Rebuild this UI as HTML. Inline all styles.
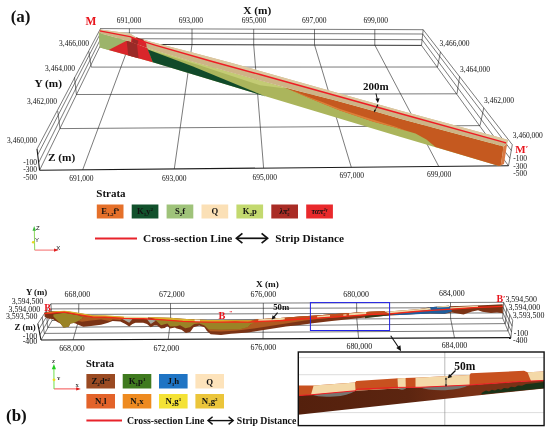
<!DOCTYPE html>
<html>
<head>
<meta charset="utf-8">
<title>Strata strip models</title>
<style>
html,body{margin:0;padding:0;background:#fff;}
body{width:550px;height:433px;overflow:hidden;}
svg{display:block;}
text{font-family:"Liberation Serif","DejaVu Serif",serif;fill:#111;}
.t{font-size:7.5px;}
.b{font-weight:bold;}
.ax{font-size:11.3px;font-weight:bold;}
.g line,.g path,.g polyline{stroke:#1a1a1a;stroke-width:0.58;fill:none;}
.sans{font-family:"Liberation Sans","DejaVu Sans",sans-serif;}
</style>
</head>
<body>
<svg width="550" height="433" viewBox="0 0 550 433">
<rect width="550" height="433" fill="#ffffff"/>

<!-- ================= PANEL (a) ================= -->
<g id="pa">
<!-- box grid -->
<g class="g">
  <!-- back wall horizontals -->
  <line x1="100.5" y1="28.6" x2="423.2" y2="29.7"/>
  <line x1="100.7" y1="32.9" x2="422.7" y2="34"/>
  <line x1="100.8" y1="38.6" x2="422.1" y2="39.7"/>
  <line x1="101" y1="44.3" x2="421.5" y2="45.4" style="stroke-width:0.9"/>
  <!-- back wall verticals -->
  <line x1="129.4" y1="28.7" x2="129.4" y2="44.4"/>
  <line x1="192" y1="28.9" x2="192" y2="44.6"/>
  <line x1="253.7" y1="29.1" x2="253.7" y2="44.7"/>
  <line x1="314.5" y1="29.3" x2="314.5" y2="44.8"/>
  <line x1="374.8" y1="29.5" x2="374.8" y2="45"/>
  <line x1="100.5" y1="28.6" x2="101" y2="44.3"/>
  <line x1="423.2" y1="29.7" x2="421.5" y2="45.4"/>
  <!-- left wall -->
  <line x1="100.5" y1="28.6" x2="37" y2="149"/>
  <line x1="100.7" y1="32.9" x2="37.7" y2="154.8"/>
  <line x1="100.8" y1="38.6" x2="38.7" y2="162.5"/>
  <line x1="101" y1="44.3" x2="39.6" y2="170.2"/>
  <line x1="37" y1="149" x2="39.6" y2="170.2" style="stroke-width:1.1"/>
  <line x1="88.8" y1="51.4" x2="91.2" y2="67.1"/>
  <line x1="74.5" y1="77.3" x2="76.4" y2="94.5"/>
  <line x1="57.7" y1="111" x2="60" y2="128.6"/>
  <!-- right wall -->
  <line x1="423.2" y1="29.7" x2="512.3" y2="144.7"/>
  <line x1="422.7" y1="34" x2="511.3" y2="150.5"/>
  <line x1="422.1" y1="39.7" x2="509.9" y2="158.2"/>
  <line x1="421.5" y1="45.4" x2="508.5" y2="165.8"/>
  <line x1="512.3" y1="144.7" x2="508.5" y2="165.8"/>
  <line x1="440.5" y1="51.8" x2="437.5" y2="67"/>
  <line x1="459.6" y1="76.5" x2="457" y2="93.8"/>
  <line x1="483.8" y1="107.8" x2="480" y2="125.6"/>
  <!-- floor horizontals -->
  <line x1="91.2" y1="67.1" x2="437.5" y2="67"/>
  <line x1="76.4" y1="94.5" x2="457" y2="93.8"/>
  <line x1="60" y1="128.6" x2="480" y2="125.6"/>
  <line x1="39.6" y1="170.2" x2="508.5" y2="165.8" style="stroke-width:1.1"/>
  <!-- floor verticals -->
  <line x1="129.4" y1="44.4" x2="82.7" y2="169.8"/>
  <line x1="192" y1="44.6" x2="174.3" y2="168.9"/>
  <line x1="253.7" y1="44.7" x2="263.6" y2="168.1"/>
  <line x1="314.5" y1="44.8" x2="351.3" y2="167.3"/>
  <line x1="374.8" y1="45" x2="438.8" y2="166.5"/>
</g>

<!-- block -->
<g>
  <!-- side face base: olive (darker) -->
  <polygon points="98.8,33 130,41.6 150,48.9 193.6,62 260,80.5 300,91.4 336.4,100.7 372.7,110.7 400,118.8 503.5,146.5 500.7,165.5 499,166 400,136.8 265.5,96.3 152.8,62.3 99.9,47.6" fill="#abb55c"/>
  <!-- S2f left -->
  <polygon points="98.8,33 126.6,40.7 108.6,50.1 99.9,47.6" fill="#9cb46a"/>
  <!-- red -->
  <polygon points="108.6,50.1 126.6,40.7 130,41.6 147.4,48 152.8,62.3" fill="#d9262b"/>
  <!-- dark red band -->
  <polygon points="126.6,40.7 131,41.9 137,44.2 138.6,58.3 128.3,55.4" fill="#9a2a27"/>
  <!-- light K2p strip -->
  <polygon points="147.4,48 150,48.9 193.6,62 260,80.5 284.4,87.4 283.6,88.2 260,85.3 200,65.5 149,50" fill="#c3cb74"/>
  <!-- dark green -->
  <polygon points="147.8,49.5 192.4,66.3 265.5,96.4 152.8,62.3" fill="#114a2a"/>
  <!-- main orange -->
  <polygon points="284.4,87.4 300,91.4 336.4,100.7 372.7,110.7 400,118.8 503.5,146.5 500.7,165.5 499,166 435.5,146.9 426.4,139.5 415.5,133.5 395,127.6 372.7,121.6 340,110.6 323.6,104 307.3,97.2 296.4,92.5" fill="#c5591f"/>
  <!-- lighter orange sliver -->
  <polygon points="290,89.4 296.4,92 307.3,96.4 323.6,102.5 340,108.9 372.7,119.4 395,126.6 408,131.4 395,127.6 372.7,121.6 340,110.6 323.6,104 307.3,97.2 296.4,92.5" fill="#dd8038"/>
  <!-- end face -->
  <polygon points="503.5,146.5 507.2,143.4 504,164 500.7,165.5" fill="#d97a45"/>
  <!-- top surface -->
  <polygon points="100.2,29.4 130,33.6 136,37.3 143.5,39.6 150,41.6 192.4,52.4 230,62.5 260,71 400,110.5 502.5,138.2 508,139.9 507.2,143.4 503.5,146.5 400,118.8 372.7,110.7 336.4,100.7 300,91.4 260,80.5 193.6,62 150,48.9 130,41.6 98.8,33" fill="#cdb486"/>
  <polygon points="100.2,29.4 130,33.6 136,37.3 143.5,39.6 150,41.6 192.4,52.4 230,62.5 260,71 400,110.5 502.5,138.2 508,139.9 506,143 400,113.5 260,74.5 214,62 155,45.1 146.3,42.4 138,39.7 130,36.6 99.8,30.6" fill="#dcc8a0"/>
  <!-- red outcrop on top -->
  <polygon points="131,42 131.6,37.5 146,42.5 146.8,47.8" fill="#d9262b"/>
  <polygon points="132,42.3 132.6,38.5 138.4,40.6 137.6,44.4" fill="#9a2a27"/>
  <polygon points="136,37.3 143.5,39.6 143.8,41.6 136.3,39.2" fill="#9a2a27"/>
  <polyline points="99.8,30.9 130,36.6 138,39.7 146.3,42.4 155,45.1 214,62 260,74.5 400,113.5 502.5,141.9 506,143" fill="none" stroke="#ee1c24" stroke-width="1.4"/>
</g>

<!-- annotations -->
<text x="363" y="90.3" class="b" style="font-size:11px">200m</text>
<g stroke="#111" stroke-width="1" fill="#111">
  <line x1="376" y1="93.5" x2="377.4" y2="100"/>
  <polygon points="377.9,103 375.4,98.8 379.6,98.2" stroke="none"/>
  <line x1="377.6" y1="105" x2="374.6" y2="111.5" stroke-width="0.7"/>
  <polygon points="378,104 378.2,106.8 376.3,106" stroke="none"/>
  <polygon points="374.2,112.4 374,109.6 375.9,110.4" stroke="none"/>
</g>

<!-- labels -->
<text x="10.7" y="21.6" class="b" style="font-size:17px">(a)</text>
<text x="243.3" y="14.3" class="ax">X (m)</text>
<text x="34.5" y="87" class="ax">Y (m)</text>
<text x="48" y="161.3" class="ax">Z (m)</text>
<text x="85.5" y="24.5" class="b" style="font-size:11.5px;fill:#e8141c">M</text>
<text x="515.3" y="152.8" class="b" style="font-size:11px;fill:#e8141c">M<tspan style="font-size:9px" dy="-0.5">′</tspan></text>

<g class="t">
  <text x="129" y="23.3" text-anchor="middle">691,000</text>
  <text x="190.9" y="23.3" text-anchor="middle">693,000</text>
  <text x="254" y="23.3" text-anchor="middle">695,000</text>
  <text x="314.3" y="23.3" text-anchor="middle">697,000</text>
  <text x="375.8" y="23.3" text-anchor="middle">699,000</text>
  <text x="81.4" y="180.9" text-anchor="middle">691,000</text>
  <text x="174.3" y="180.5" text-anchor="middle">693,000</text>
  <text x="264.8" y="179.6" text-anchor="middle">695,000</text>
  <text x="351.8" y="178.2" text-anchor="middle">697,000</text>
  <text x="439.1" y="177.4" text-anchor="middle">699,000</text>
  <text x="89" y="45.5" text-anchor="end">3,466,000</text>
  <text x="75" y="71" text-anchor="end">3,464,000</text>
  <text x="57" y="103.5" text-anchor="end">3,462,000</text>
  <text x="37" y="142.5" text-anchor="end">3,460,000</text>
  <text x="37" y="164.5" text-anchor="end">-100</text>
  <text x="37" y="172.4" text-anchor="end">-300</text>
  <text x="37" y="180.4" text-anchor="end">-500</text>
  <text x="439.5" y="46" >3,466,000</text>
  <text x="460" y="72" >3,464,000</text>
  <text x="484" y="103" >3,462,000</text>
  <text x="512.8" y="138.3" >3,460,000</text>
  <text x="513.3" y="161.4" >-100</text>
  <text x="513.3" y="169" >-300</text>
  <text x="513.3" y="176.3" >-500</text>
</g>

<!-- legend (a) -->
<text x="96.3" y="196.5" class="b" style="font-size:11px">Strata</text>
<g>
  <rect x="96.8" y="204.5" width="26.7" height="14" fill="#e5702a"/>
  <rect x="131.7" y="204.5" width="26.7" height="14" fill="#11512c"/>
  <rect x="166.6" y="204.5" width="26.7" height="14" fill="#9fc37a"/>
  <rect x="201.5" y="204.5" width="26.7" height="14" fill="#fbe0b6"/>
  <rect x="236.4" y="204.5" width="26.7" height="14" fill="#c3d96f"/>
  <rect x="271.3" y="204.5" width="26.7" height="14" fill="#a92c25"/>
  <rect x="306.2" y="204.5" width="26.7" height="14" fill="#e9292c"/>
</g>
<g class="b" style="font-size:8.6px" text-anchor="middle">
  <text x="110.2" y="214.2">E<tspan style="font-size:5px" dy="1.8">1-2</tspan><tspan dy="-1.8">f</tspan><tspan style="font-size:5px" dy="-3">b</tspan></text>
  <text x="145" y="214.2">K<tspan style="font-size:5px" dy="1.8">1</tspan><tspan dy="-1.8">y</tspan><tspan style="font-size:5px" dy="-3">2</tspan></text>
  <text x="180" y="214.2">S<tspan style="font-size:5px" dy="1.8">2</tspan><tspan dy="-1.8">f</tspan></text>
  <text x="214.8" y="214.4">Q</text>
  <text x="249.7" y="214.2">K<tspan style="font-size:5px" dy="1.8">2</tspan><tspan dy="-1.8">p</tspan></text>
  <text x="284.6" y="214" style="font-size:7.8px;font-style:italic">λπ<tspan style="font-size:4.5px" dy="1.8">5</tspan><tspan style="font-size:4.5px" dy="-5" dx="-2.2">3</tspan></text>
  <text x="319.5" y="214" style="font-size:7.8px;font-style:italic">ταπ<tspan style="font-size:4.5px" dy="1.8">5</tspan><tspan style="font-size:4.5px" dy="-5" dx="-2.2">2γ</tspan></text>
</g>
<line x1="95" y1="238.4" x2="137" y2="238.4" stroke="#e8232b" stroke-width="2"/>
<text x="143" y="242" class="b" style="font-size:11.3px">Cross-section Line</text>
<g stroke="#111" stroke-width="1.7" fill="none">
  <line x1="237" y1="238.3" x2="267" y2="238.3"/>
  <polyline points="242.4,233.4 236.4,238.3 242.4,243.2"/>
  <polyline points="261.6,233.4 267.6,238.3 261.6,243.2"/>
</g>
<text x="275.3" y="242" class="b" style="font-size:11.3px">Strip Distance</text>

<!-- triad (a) -->
<g>
  <line x1="34.7" y1="250.1" x2="56" y2="250.1" stroke="#f45a5a" stroke-width="0.9"/>
  <polygon points="58.7,250.1 54,248.5 54,251.7" fill="#e02020"/>
  <line x1="34.7" y1="250.1" x2="34.3" y2="229" stroke="#7ed04a" stroke-width="0.9"/>
  <polygon points="34.2,225.9 32.5,230.8 36,230.8" fill="#3cb83c"/>
  <circle cx="33.2" cy="242.3" r="1.3" fill="#e6d820"/>
  <text x="36" y="229.8" class="sans" style="font-size:6px">Z</text>
  <text x="35" y="242.2" class="sans" style="font-size:6px">Y</text>
  <text x="56.3" y="250" class="sans" style="font-size:6px">X</text>
</g>
</g>

<!-- ================= PANEL (b) ================= -->
<g id="pb">
<g class="g">
  <!-- back wall -->
  <line x1="50.9" y1="303.8" x2="503.6" y2="302.3"/>
  <line x1="51.3" y1="308.9" x2="503.3" y2="307.6"/>
  <line x1="51.7" y1="314.5" x2="503" y2="312.9"/>
  <line x1="52" y1="320.5" x2="502.7" y2="318.2"/>
  <!-- floor -->
  <line x1="47.5" y1="327.4" x2="505.4" y2="323.6"/>
  <line x1="44.3" y1="333.4" x2="508" y2="330.9"/>
  <line x1="41" y1="340" x2="510.9" y2="337.6" style="stroke-width:1.1"/>
  <!-- left wall -->
  <line x1="50.9" y1="303.8" x2="37.8" y2="323.7"/>
  <line x1="51.3" y1="308.9" x2="38.9" y2="329.2"/>
  <line x1="51.7" y1="314.5" x2="40" y2="334.7"/>
  <line x1="52" y1="320.5" x2="41" y2="340"/>
  <line x1="37.8" y1="323.7" x2="41" y2="340" style="stroke-width:1.1"/>
  <line x1="50.9" y1="303.8" x2="52" y2="320.5"/>
  <line x1="46.5" y1="310.5" x2="47.5" y2="327.4"/>
  <line x1="42.2" y1="317.1" x2="44.3" y2="333.4"/>
  <!-- right wall -->
  <line x1="503.6" y1="302.3" x2="512.7" y2="320.5"/>
  <line x1="503.3" y1="307.6" x2="512.1" y2="326.2"/>
  <line x1="503" y1="312.9" x2="511.5" y2="331.9"/>
  <line x1="502.7" y1="318.2" x2="510.9" y2="337.6"/>
  <line x1="512.7" y1="320.5" x2="510.9" y2="337.6"/>
  <line x1="503.6" y1="302.3" x2="502.7" y2="318.2"/>
  <line x1="506.6" y1="308.4" x2="505.4" y2="323.6"/>
  <line x1="509.7" y1="314.5" x2="508" y2="330.9"/>
  <!-- verticals -->
  <polyline points="78.8,303.7 78.6,320.4 73,339.9"/>
  <polyline points="170.5,303.4 170.6,319.9 168.2,339.4"/>
  <polyline points="263.3,303.1 263.4,319.4 263,338.9"/>
  <polyline points="356.6,302.8 356.8,318.9 358.6,338.4"/>
  <polyline points="450.5,302.5 450.6,318.4 454.5,337.9"/>
</g>

<!-- body -->
<g>
  <polygon points="44.5,312.6 50,311.3 64.2,311 78.2,313 93.5,315.6 105,316 124,317 143,317.3 156,317.4 170,317.8 182.7,318.8 195.5,319.6 208,320 221,320 240,320.2 251.5,320.2 258.5,319.3 284.6,317.7 300,316.6 316,315.5 332,314.3 347,313.2 370,311.8 384,311.3 385.4,311.7 419.7,309.1 430,307.3 448.9,305.8 449.6,306.3 467.8,305.7 488.2,305.1 502.7,304.2 502.9,313.2 497,312.6 491,313 482.4,311.8 478,310.2 472.2,311.6 463.5,314.5 451.8,312.4 444.5,313.8 430,313.6 416,314.1 400,314.9 390,315.4 370,316.9 351,318.9 331.8,321 312.7,323.3 300,325 286,326.6 273.2,328.5 260.5,330.5 247.7,332.4 235,333.6 231,333.7 221,334.9 210.7,334.3 206.9,331.1 204.4,327.3 199.3,325.4 193.5,327.3 190.4,331.7 185.9,333 181.5,329.8 176,328.3 175,327.4 170,328.5 167.4,326 164.8,327.9 161,328.5 157.2,325.4 154,325.4 150.8,327.3 147,324.1 143.2,322.8 135.5,322.8 132.4,324.1 129.2,326.6 125.4,324.1 120.3,321.5 112.6,320.9 108,322.8 101,324.8 91,326 83.3,326.7 78.2,324.8 75.6,323.5 73.7,322.9 70.5,323.5 68.6,326.7 63.5,327.4 60.4,323.5 57.8,322.3 52.7,319.1 47.6,318.5 44.5,316.5" fill="#7b3315"/>
  <polygon points="78.2,315.3 93.5,317.5 110,317.5 124,318.7 120,320 112.6,319.6 110,321 101,319.5 91,320.6 82,321.8 78.2,321 83.3,317.8" fill="#b05a20"/>
  <polygon points="251.5,320.5 258.5,319.3 284.6,317.7 300,316.6 316,315.5 332,314.3 347,313.2 370,311.8 384,311.3 385.4,311.9 389,313.8 370,314.8 351,316.3 331.8,317.8 320,318.8 305,320.5 286,323.5 273.2,325.4 254,328.5 235,330.8 221,331.6 210,331.2 208,329 221,329.5 240,329 247.7,327 251,324" fill="#b05a20"/>
  <polygon points="53.4,314.6 64.2,312.7 78.2,315.3 83.3,317.8 78.2,321 73.7,322.9 70.5,323.5 68.6,326.7 63.5,327.4 60.4,323.5 55.9,319.1 53.4,316.5" fill="#9a8326"/>
  <polygon points="156,319.3 170,320.3 182.7,321.3 195.5,321.8 208.2,322.2 221,322.2 235,321.8 247.7,322.2 254.8,322.2 251,324 247.7,327.2 240,329.2 221,329.8 208.2,329.2 204.4,325.4 199.3,323.5 194.2,324.1 190,327.3 185.3,328.2 180,325.3 176.4,326.2 170,326.6 167.4,323.6 161,325.3 156,320.5" fill="#9a8326"/>
  <polygon points="121.5,318.6 132.4,319.2 129.2,322.8" fill="#a8a89e"/>
  <polygon points="147,319.2 156,320.6 150.8,324.1" fill="#a8a89e"/>
  <polygon points="47,312.6 55,311.2 64.2,310.8 70,311.2 78.2,312.7 93.5,315.3 105,315.2 115,316 124,316.6 124,318.4 105,317.1 93.5,317.2 78.2,314.6 64.2,312.1 44.5,313.7" fill="#d9b02c"/>
  <polygon points="124,316.5 148,317 148,319 124,318.6" fill="#e8d79a"/>
  <polygon points="148,317.1 156,317.2 170,317.7 182.7,318.8 195.5,319.6 208,320 221,320 240,320.3 251.5,320.3 256,321 247.7,322.2 235,321.8 221,322.2 208.2,322.2 195.5,321.8 182.7,321.3 170,320.3 156,319.3" fill="#d9b02c"/>
  <polygon points="194.6,319.4 200,319.7 200,322 194.6,321.8" fill="#f3e6c8"/>
  <polygon points="251.5,320.4 258.5,319.4 258,321.4 251,321.9" fill="#c76a22"/>
  <polygon points="251.5,320.5 258.5,319.3 284.6,317.7 300,316.6 316,315.5 332,314.3 347,313.2 370,311.8 384,311.3 385.4,311.9 389.2,313.8 370,314.5 351,315.8 331.8,317.1 312.7,318.4 300,319 283.4,320.5 273.2,320.9 257.9,321.5" fill="#c04e1d"/>
  <polygon points="390.5,314.7 400,313.2 416,311.7 419.7,310.3 430,307.3 448.9,305.8 451.8,308 451.8,311.6 444.5,313.8 430,313.6 416,314.2 400,315" fill="#1f5e9c"/>
  <polygon points="365,315.4 389,313.9 389.5,315.2 365,318.2" fill="#3a3a18"/>
  <polygon points="258.5,319.3 284.6,317.7 285,319.6 273,320.8 258,321.4" fill="#efd8a8"/>
  <polygon points="317.2,316 330,315 330,317 317.2,318" fill="#efd8a8"/>
  <polygon points="343.3,314.4 346.5,314.2 346.5,316 343.3,316.2" fill="#efd8a8"/>
  <polygon points="349,313.6 366.2,312.1 366.2,314.5 349,315.8" fill="#efd8a8"/>
  <polygon points="385.4,311.7 419.7,309.1 430,307.8 431,309.6 416,311.3 389.2,313.7" fill="#efd8a8"/>
  <polygon points="437,306.4 448.9,305.6 449.5,307 437,307.6" fill="#efd8a8"/>
  <polygon points="450.4,307.3 478,305.8 478,307.2 450.4,308.9" fill="#efd8a8"/>
  <polyline points="44.5,313.7 64.2,312.1 78.2,314.6 93.5,317.2 105,317.1 124,318.4 143.2,318.7 156,319.3 170,320.3 182.7,321.3 195.5,321.8 208.2,322.2 221,322.2 235,321.8 247.7,322.2 257.9,321.5 273.2,320.9 283.4,320.5 300,319 312.7,318.4 331.8,317.1 351,315.8 370,314.5 389.2,313.8 416,311.5 435,310.2 451.8,309.2 473.6,307.7 502.7,306.3" fill="none" stroke="#f32a18" stroke-width="1.3" stroke-linejoin="round"/>
</g>

<!-- blue rect & arrow -->
<rect x="310.4" y="302.6" width="79.2" height="27.9" fill="none" stroke="#2222e6" stroke-width="1"/>
<g stroke="#111" stroke-width="1.1" fill="#111">
  <line x1="390.7" y1="335.7" x2="399" y2="348"/>
  <polygon points="401.1,351.2 396.3,347.9 400.4,345.2" stroke="none"/>
</g>

<!-- 50m -->
<text x="273.2" y="310.3" class="b" style="font-size:8.7px">50m</text>
<g stroke="#111" stroke-width="1.2" fill="#111">
  <line x1="277.6" y1="312.6" x2="273.6" y2="317.3"/>
  <polygon points="271.7,319.5 272.6,315.3 275.9,318.1" stroke="none"/>
</g>

<!-- labels -->
<text x="44.2" y="310.8" class="b" style="font-size:10px;fill:#e8141c">B</text>
<text x="218.6" y="318.7" class="b" style="font-size:10.3px;fill:#e8141c">B</text>
<text x="229" y="315.3" class="b" style="font-size:6.5px;fill:#e8141c">"</text>
<text x="496.4" y="301.9" class="b" style="font-size:10px;fill:#e8141c">B<tspan style="font-size:9px">′</tspan></text>
<text x="25.9" y="294.9" class="ax" style="font-size:8.8px">Y (m)</text>
<text x="14.5" y="330.1" class="ax" style="font-size:8.8px">Z (m)</text>
<text x="256" y="287.2" class="ax" style="font-size:9.2px">X (m)</text>
<g class="t" style="font-size:7.9px">
  <text x="77.4" y="297.4" text-anchor="middle">668,000</text>
  <text x="171.9" y="297.4" text-anchor="middle">672,000</text>
  <text x="263.3" y="296.9" text-anchor="middle">676,000</text>
  <text x="356.1" y="296.9" text-anchor="middle">680,000</text>
  <text x="451.8" y="296.2" text-anchor="middle">684,000</text>
  <text x="72" y="351" text-anchor="middle">668,000</text>
  <text x="166.3" y="351" text-anchor="middle">672,000</text>
  <text x="263.3" y="350.1" text-anchor="middle">676,000</text>
  <text x="359.3" y="349" text-anchor="middle">680,000</text>
  <text x="454.5" y="348.2" text-anchor="middle">684,000</text>
  <text x="43.3" y="303.9" text-anchor="end">3,594,500</text>
  <text x="40.1" y="311.5" text-anchor="end">3,594,000</text>
  <text x="37.5" y="319.3" text-anchor="end">3,593,500</text>
  <text x="37.2" y="338.5" text-anchor="end">-100</text>
  <text x="37.2" y="344" text-anchor="end">-400</text>
  <text x="505.4" y="302.2" >3,594,500</text>
  <text x="508.6" y="309.9" >3,594,000</text>
  <text x="512.8" y="317.8" >3,593,500</text>
  <text x="513.8" y="336.2" >-100</text>
  <text x="513" y="342.8" >-400</text>
</g>

<!-- triad (b) -->
<g>
  <line x1="54" y1="388.9" x2="77" y2="388.9" stroke="#f45050" stroke-width="1"/>
  <polygon points="80.8,388.9 76.2,387.2 76.2,390.6" fill="#e01818"/>
  <line x1="54" y1="389" x2="53.9" y2="368" stroke="#6fe04a" stroke-width="1"/>
  <polygon points="53.9,364 51.8,369.2 56,369.2" fill="#22cc22"/>
  <circle cx="54" cy="379.8" r="1.4" fill="#f0dc20"/>
  <text x="52" y="363.4" class="b" style="font-size:4.6px">Z</text>
  <text x="57" y="380.2" class="b" style="font-size:4.6px">Y</text>
  <text x="75.4" y="386.6" class="b" style="font-size:4.6px">X</text>
</g>

<!-- legend (b) -->
<text x="85.9" y="367.4" class="b" style="font-size:10.6px">Strata</text>
<g>
  <rect x="86.4" y="374" width="28.6" height="14.5" fill="#9a4a22"/>
  <rect x="122.7" y="374" width="28.6" height="14.5" fill="#3f7a1f"/>
  <rect x="159" y="374" width="28.6" height="14.5" fill="#1f74c4"/>
  <rect x="195.4" y="374" width="28.6" height="14.5" fill="#fde3bb"/>
  <rect x="86.4" y="394" width="28.6" height="14.5" fill="#e3632a"/>
  <rect x="122.7" y="394" width="28.6" height="14.5" fill="#ee8a1f"/>
  <rect x="159" y="394" width="28.6" height="14.5" fill="#f4e235"/>
  <rect x="195.4" y="394" width="28.6" height="14.5" fill="#ebc53a"/>
</g>
<g class="b" style="font-size:8.8px" text-anchor="middle">
  <text x="100.7" y="384.3">Z<tspan style="font-size:5px" dy="1.8">2</tspan><tspan dy="-1.8">d</tspan><tspan style="font-size:5px" dy="-3">n2</tspan></text>
  <text x="137" y="384.3">K<tspan style="font-size:5px" dy="1.8">1</tspan><tspan dy="-1.8">p</tspan><tspan style="font-size:5px" dy="-3">1</tspan></text>
  <text x="173.3" y="384.3">J<tspan style="font-size:5px" dy="1.8">3</tspan><tspan dy="-1.8">h</tspan></text>
  <text x="209.7" y="384.5">Q</text>
  <text x="100.7" y="404.3">N<tspan style="font-size:5px" dy="1.8">1</tspan><tspan dy="-1.8">l</tspan></text>
  <text x="137" y="404.3">N<tspan style="font-size:5px" dy="1.8">1</tspan><tspan dy="-1.8">x</tspan></text>
  <text x="173.3" y="404.3">N<tspan style="font-size:5px" dy="1.8">2</tspan><tspan dy="-1.8">g</tspan><tspan style="font-size:5px" dy="-3">1</tspan></text>
  <text x="209.7" y="404.3">N<tspan style="font-size:5px" dy="1.8">2</tspan><tspan dy="-1.8">g</tspan><tspan style="font-size:5px" dy="-3">2</tspan></text>
</g>
<line x1="86.4" y1="420.4" x2="122" y2="420.4" stroke="#e8232b" stroke-width="2"/>
<text x="127" y="424" class="b" style="font-size:9.8px">Cross-section Line</text>
<g stroke="#111" stroke-width="1.4" fill="none">
  <line x1="208.5" y1="420.6" x2="232.8" y2="420.6"/>
  <polyline points="212.6,416.8 208,420.6 212.6,424.4"/>
  <polyline points="228.6,416.8 233.2,420.6 228.6,424.4"/>
</g>
<text x="236.7" y="424" class="b" style="font-size:9.8px">Strip Distance</text>
<text x="6" y="420.8" class="b" style="font-size:17px">(b)</text>

<!-- inset -->
<g>
  <rect x="298.3" y="352" width="245.8" height="73.6" fill="#ffffff"/>
  <g stroke="#c4c4c4" stroke-width="0.6">
    <line x1="298.3" y1="357.6" x2="544" y2="357.6"/>
    <line x1="298.3" y1="374.7" x2="544" y2="374.7"/>
    <line x1="298.3" y1="412.6" x2="544" y2="412.6"/>
    <line x1="444.8" y1="352" x2="444.8" y2="425.6" stroke="#8a8a8a"/>
  </g>
  <defs>
    <linearGradient id="dbg" x1="298" y1="0" x2="544" y2="0" gradientUnits="userSpaceOnUse">
      <stop offset="0" stop-color="#54200d"/><stop offset="0.45" stop-color="#5c2510"/><stop offset="0.7" stop-color="#7a3116"/><stop offset="1" stop-color="#7a3116"/>
    </linearGradient>
  </defs>
  <!-- dark brown -->
  <polygon points="298.3,395.5 355,390.8 420,387.3 469.6,385 521.7,381.4 544.1,380 544.1,388.5 420,401.5 298.3,414.8" fill="url(#dbg)"/>
  <!-- dark green -->
  <polygon points="481.5,393 483.5,391.8 486,390.6 489,391.4 492,389.8 495,390.6 498,389 501,389.8 504,388 508,388.6 511,386.8 515,387.2 518,385.4 522,385.8 526,384 532,383.6 544.1,382 544.1,388.3 481.5,394.4" fill="#1a3318"/>
  <!-- orange brown top layer -->
  <polygon points="298.3,385.6 312,385.4 313.6,385.6 355,382.4 356.3,381 395,378.4 397.5,378.3 420,377.4 469.6,375 470.8,373.3 524,370.8 527.5,372.3 544.1,371.6 544.1,380.4 521.7,381.4 469.6,385 420,387.3 355,390.8 311,394.8 298.3,395.5" fill="#c8511f"/>
  <!-- tan segments -->
  <polygon points="313.6,385.6 355,382.4 355.6,391 311,394.8" fill="#f4d9a8"/>
  <polygon points="397.5,378.3 405.6,378 405.8,388.2 398,388.6" fill="#f4d9a8"/>
  <polygon points="415.5,377.6 420,377.4 469.6,375 469.6,385 420,387.3 415.5,387.6" fill="#f4d9a8"/>
  <polygon points="527.5,372.3 544.1,371.6 544.1,380.4 531,381" fill="#f4d9a8"/>
  <!-- gray lenses -->
  <path d="M312,394.7 L355,391 Q348,396 334,396.4 Q319,397.4 312,394.7Z" fill="#767672"/>
  <path d="M398,388.6 L406,388.1 Q402.5,391.6 398,388.6Z" fill="#767672"/>
  <path d="M420,387.3 L469,385 Q462,389.4 445,390.2 Q427,390.6 420,387.3Z" fill="#767672"/>
  <!-- red line -->
  <polyline points="298.3,395.5 311,394.8 355,390.8 357,389.2 397,387.4 420,387.3 469.6,385 521.7,381.4 531,381 544.1,380.4" fill="none" stroke="#ee1c24" stroke-width="1"/>
  <rect x="298.3" y="352" width="245.8" height="73.6" fill="none" stroke="#111" stroke-width="1.4"/>
  <text x="454.3" y="369.7" class="b" style="font-size:11.5px">50m</text>
  <g stroke="#111" stroke-width="1.2" fill="#111">
    <line x1="455.5" y1="370.5" x2="450" y2="376"/>
    <polygon points="447.7,378.3 449,374 452.2,377" stroke="none"/>
    <line x1="446" y1="378.5" x2="446" y2="385.5" stroke-width="0.7"/>
    <polygon points="446,377.2 444.8,379.6 447.2,379.6" stroke="none"/>
    <polygon points="446,386.8 444.8,384.4 447.2,384.4" stroke="none"/>
  </g>
</g>
</g>
</svg>
</body>
</html>
